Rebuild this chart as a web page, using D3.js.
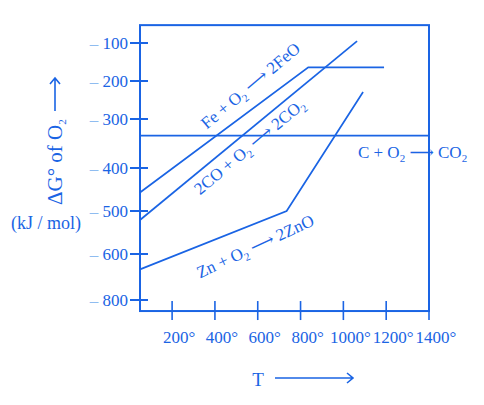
<!DOCTYPE html>
<html>
<head>
<meta charset="utf-8">
<style>
  body { margin: 0; background: #fff; }
  svg text { font-family: "Liberation Serif", "DejaVu Serif", serif; fill: #1a64e4; }
  .frame, .tick, .curve, .arrow { stroke: #1a64e4; fill: none; }
</style>
</head>
<body>
<script src="https://cdn.jsdelivr.net/npm/d3@7"></script>
<script>
// values (T in °C, ΔG° in kJ/mol)
const xTicks = [200, 400, 600, 800, 1000, 1200, 1400];
const yTicks = [-100, -200, -300, -400, -500, -600, -800];
const feLine = [[50, -457], [836, -164], [1190, -164]];
const coLine = [[50, -521], [1064, -95]];
const znLine = [[50, -667], [735, -500], [1092, -229]];
const cLine  = [[50, -334], [1400, -334]];
const seriesNames = ["Fe", "CO", "Zn", "C"];
// label text, where its baseline starts [T, G], rotation
const labelText = ["Fe + O_2 ⟶ 2FeO", "2CO + O_2 ⟶ 2CO_2", "Zn + O_2 ⟶ 2ZnO", "C + O_2 ⟶ CO_2"];
const labelAt = [[362, -322], [330, -464], [330, -706], [1068, -380]];
const labelRot = [-40, -40, -25, 0];

const w = 484, h = 405;
const svg = d3.select("body").append("svg").attr("width", w).attr("height", h);

// the y ticks on the drawing are not evenly spaced, so use a piecewise scale
let x = d3.scaleLinear().domain([50, 1400]).range([140, 429]);
let y = d3.scaleLinear().domain(yTicks).range([43, 81, 119, 168, 211, 254, 300]);
let yTop = -53, yBot = -848;

svg.append("rect").attr("class", "frame")
   .attr("x", x(50)).attr("y", y(yTop))
   .attr("width", x(1400) - x(50)).attr("height", y(yBot) - y(yTop))
   .attr("stroke-width", 2);

// y ticks cross the axis
svg.append("g").selectAll("line").data(yTicks).enter().append("line")
   .attr("class", "tick").attr("stroke-width", 2)
   .attr("x1", x(50) - 10).attr("x2", x(50) + 8)
   .attr("y1", d => y(d)).attr("y2", d => y(d));

let yl = svg.append("g").selectAll("text").data(yTicks).enter().append("text")
   .attr("x", x(50) - 12).attr("y", d => y(d) + 6)
   .attr("text-anchor", "end").style("font-size", "17px");
yl.append("tspan").style("fill", "#8fbcf0").text("– ");
yl.append("tspan").text(d => -d);

svg.append("g").selectAll("line").data(xTicks).enter().append("line")
   .attr("class", "tick").attr("stroke-width", 1.6)
   .attr("x1", d => x(d)).attr("x2", d => x(d))
   .attr("y1", y(yBot) - 10).attr("y2", y(yBot) + 9);

svg.append("g").selectAll("text").data(xTicks).enter().append("text")
   .attr("x", d => x(d) + 7).attr("y", y(yBot) + 32)
   .attr("text-anchor", "middle").style("font-size", "17px")
   .text(d => d + "°");

// reaction lines
let line = d3.line().x(d => x(d[0])).y(d => y(d[1]));
svg.append("g").selectAll("path").data([feLine, coLine, znLine, cLine]).enter().append("path")
   .attr("class", "curve").attr("stroke-width", 1.7)
   .attr("d", line);

function addRich(sel, str) {
    let parts = str.split(/_(\d)/);
    parts.forEach((p, i) => {
        if (i % 2 == 1) {
            sel.append("tspan").attr("dy", 4).style("font-size", "11px").text(p);
        } else if (p.length) {
            sel.append("tspan").attr("dy", i > 0 ? -4 : 0).text(p);
        }
    });
}

seriesNames.forEach((n, i) => {
    let t = svg.append("text")
        .attr("transform", "translate(" + x(labelAt[i][0]) + "," + y(labelAt[i][1]) + ") rotate(" + labelRot[i] + ")")
        .style("font-size", "17px");
    addRich(t, labelText[i]);
});

// axis titles
let yt = svg.append("text").attr("transform", "translate(62,205) rotate(-90)")
   .style("font-size", "21px");
addRich(yt, "ΔG° of O_2");

svg.append("text").attr("x", 46).attr("y", 229).attr("text-anchor", "middle")
   .style("font-size", "18px").text("(kJ / mol)");

svg.append("text").attr("x", 258).attr("y", 386).attr("text-anchor", "middle")
   .style("font-size", "19px").text("T");

svg.append("path").attr("class", "arrow").attr("stroke-width", 1.6)
   .attr("d", "M275,378H353M347,373L353,378L347,383");
svg.append("path").attr("class", "arrow").attr("stroke-width", 1.6)
   .attr("d", "M55,111V78M50,84L55,78L60,84");
</script>
</body>
</html>
